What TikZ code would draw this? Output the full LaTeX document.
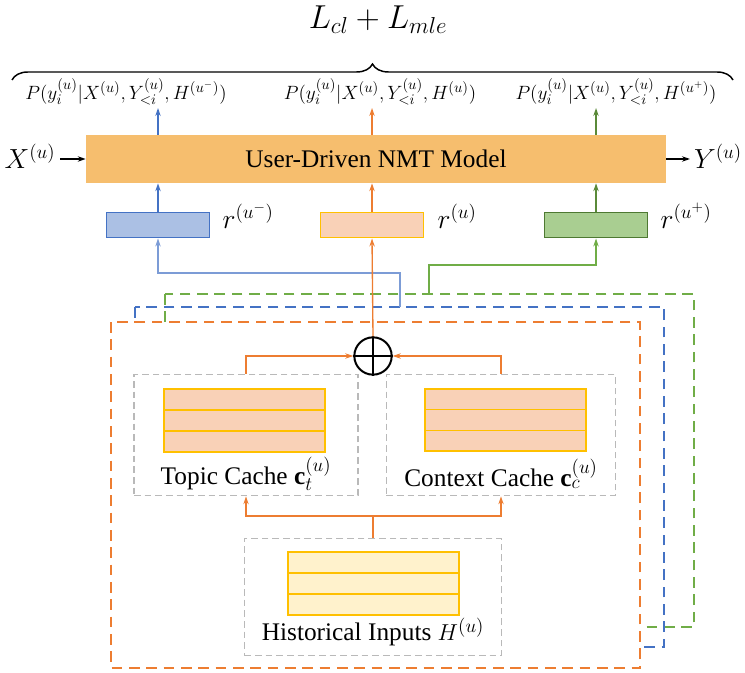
\documentclass[tikz,border=0pt]{standalone}
\usepackage{fontspec}
\setmainfont{Liberation Serif}
\usetikzlibrary{arrows.meta,decorations.pathreplacing}
\definecolor{cor}{HTML}{ED7D31}
\definecolor{cbl}{HTML}{4472C4}
\definecolor{cgr}{HTML}{70AD47}
\definecolor{nmt}{HTML}{F6BE6E}
\definecolor{yel}{HTML}{FFC000}
\begin{document}
\begin{tikzpicture}[x=0.75pt,y=-0.75pt,
 arr/.style={-{Stealth[length=6pt,width=4pt]},line width=1pt},
 gbox/.style={draw=gray!55,dash pattern=on 5pt off 3pt,line width=1pt},
 dbox/.style={dash pattern=on 8pt off 5pt,line width=1.1pt},
 rbox/.style={line width=1.2pt,minimum width=77pt,minimum height=19pt,inner sep=0pt},
 lab/.style={font=\fontsize{15}{15}\selectfont},
 big/.style={font=\fontsize{19}{19}\selectfont}]
\useasboundingbox (0,0) rectangle (745,673);
% title and brace
\node[font=\fontsize{24}{24}\selectfont] (loss) at (378,20) {$L_{cl}+L_{mle}$};
\draw[line width=1.1pt,decorate,decoration={brace,amplitude=12pt}] (12,80) -- (733,80);
% P labels
\node[lab] (p1) at (126,92) {$P(y_i^{(u)}|X^{(u)},Y_{<i}^{(u)},H^{(u^-)})$};
\node[lab] (p2) at (380,92) {$P(y_i^{(u)}|X^{(u)},Y_{<i}^{(u)},H^{(u)})$};
\node[lab] (p3) at (616,92) {$P(y_i^{(u)}|X^{(u)},Y_{<i}^{(u)},H^{(u^+)})$};
% NMT box
\node[fill=nmt,minimum width=435pt,minimum height=36pt,inner sep=0pt,big] (nmt) at (376,159) {User-Driven NMT Model};
\node[font=\fontsize{22}{22}\selectfont] (x) at (30,156) {$X^{(u)}$};
\node[font=\fontsize{22}{22}\selectfont] (y) at (718,156) {$Y^{(u)}$};
\draw[arr,line width=1.2pt] (x.east|-nmt.west) -- (nmt.west);
\draw[arr,line width=1.2pt] (nmt.east) -- (690,159) coordinate (ye);
% r boxes
\node[rbox,draw=cbl,fill=cbl!45!white] (rb) at (158,225) {};
\node[rbox,draw=yel,fill=cor!35!white] (ro) at (372,225) {};
\node[rbox,draw=cgr!70!black,fill=cgr!60!white] (rg) at (596,225) {};
\node[font=\fontsize{22}{22}\selectfont,anchor=west] (lb) at (218,216) {$r^{(u^-)}$};
\node[font=\fontsize{22}{22}\selectfont,anchor=west] (lo) at (433,216) {$r^{(u)}$};
\node[font=\fontsize{22}{22}\selectfont,anchor=west] (lg) at (656,216) {$r^{(u^+)}$};
\draw[arr,cbl] (rb.north) -- (rb.north|-nmt.south);
\draw[arr,cor] (ro.north) -- (ro.north|-nmt.south);
\draw[arr,cgr!80!black] (rg.north) -- (rg.north|-nmt.south);
\draw[arr,cbl] (rb.north|-nmt.north) -- (158,108) coordinate (t1);
\draw[arr,cor] (ro.north|-nmt.north) -- (372,108) coordinate (t2);
\draw[arr,cgr!80!black] (rg.north|-nmt.north) -- (596,108) coordinate (t3);
% dashed frames
\draw[dbox,cgr] (165,294) rectangle (694,627);
\draw[dbox,cbl] (135,307) rectangle (664,647);
\draw[dbox,cor,fill=white] (111,322) rectangle (640,668);
% feedback lines
\draw[arr,cbl!70!white] (400,307) -- (400,273) -- (158,273) -- (rb.south);
\draw[arr,cgr] (429,294) -- (429,265) -- (596,265) -- (rg.south);
% oplus
\node[circle,draw,line width=1.5pt,minimum size=28pt,inner sep=0pt] (op) at (373,356) {};
\draw[line width=1.5pt] (op.north) -- (op.south) (op.west) -- (op.east);
\draw[arr,cor] (op.north) -- (ro.south);
% cache boxes
\node[gbox,minimum width=168pt,minimum height=91pt,inner sep=0pt] (tb) at (246,435) {};
\node[gbox,minimum width=172pt,minimum height=91pt,inner sep=0pt] (cb) at (501,435) {};
\node[gbox,minimum width=193pt,minimum height=88pt,inner sep=0pt] (hb) at (373,597) {};
\foreach \n/\xa/\xb/\ya/\yb/\c in {ts/164/325/389/452/cor!35!white, cs/425/586/389/451/cor!35!white, hs/288/459/552/615/yel!20!white}{
  \draw[draw=yel,fill=\c,line width=1.2pt] (\xa,\ya) rectangle (\xb,\yb);
  \draw[draw=yel,line width=1.2pt] (\xa,{\ya+(\yb-\ya)/3}) -- (\xb,{\ya+(\yb-\ya)/3}) (\xa,{\ya+2*(\yb-\ya)/3}) -- (\xb,{\ya+2*(\yb-\ya)/3});
}
\node[big] (tl) at (246,474) {Topic Cache $\mathbf{c}_t^{(u)}$};
\node[big] (cl) at (501,474) {Context Cache $\mathbf{c}_c^{(u)}$};
\node[big] (hl) at (373,632) {Historical Inputs $H^{(u)}$};
\draw[arr,cor] (tb.north) -- (246,356) -- (op.west);
\draw[arr,cor] (cb.north) -- (501,356) -- (op.east);
\draw[arr,cor] (hb.north) -- (373,516) -- (246,516) -- (tb.south);
\draw[arr,cor] (373,516) -- (501,516) -- (cb.south);
\end{tikzpicture}
\end{document}
